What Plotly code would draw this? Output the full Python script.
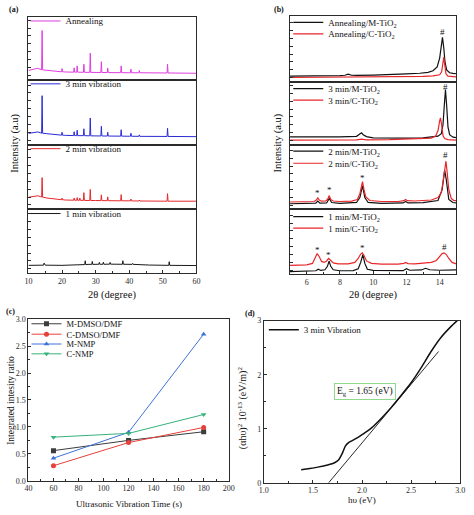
import plotly.graph_objects as go

W, H = 474, 515
FONT = "Liberation Serif"
INK = "#2b2b2b"

# ---------------- (a) XRD patterns, 10-60 deg ----------------
a_names = ["Annealing", "3 min vibration", "2 min vibration", "1 min vibration"]
a_colors = ["#e03ddf", "#2b2bd4", "#e5282b", "#1a1a1a"]
# background knots (2theta, intensity)
a_base_x = [
    [10, 11, 12, 12.8, 13.5, 15.5, 18, 21, 25, 30, 40, 50, 60],
    [10, 11, 12, 12.8, 13.5, 15.5, 18, 21, 25, 30, 40, 50, 60],
    [10, 11, 12, 12.8, 13.5, 15.5, 18, 21, 25, 30, 40, 50, 60],
    [10, 15, 20, 24, 28, 35, 42, 46, 55, 60],
]
a_base_y = [
    [9.3, 9.8, 11.0, 11.5, 10.5, 9.5, 8.5, 7.8, 7.5, 7.3, 7.0, 6.8, 6.5],
    [11.3, 11.8, 12.5, 12.8, 12.0, 11.0, 10.0, 9.3, 9.0, 8.7, 8.4, 8.2, 8.0],
    [12.3, 12.8, 13.5, 13.8, 13.0, 11.5, 10.3, 9.5, 9.2, 9.0, 8.7, 8.5, 8.3],
    [8.0, 8.2, 8.0, 8.3, 9.0, 9.2, 9.0, 8.3, 8.0, 7.8],
]
# peaks: position, local background, top
a_peak_pos = [
    [14.07, 20.0, 23.6, 24.5, 26.5, 28.4, 31.7, 33.6, 37.6, 40.5, 43.0, 51.4],
    [14.07, 20.0, 23.6, 24.5, 26.5, 28.4, 31.7, 33.6, 37.6, 40.5, 43.0, 51.4],
    [14.07, 20.0, 23.6, 24.5, 25.3, 26.5, 28.4, 31.7, 33.6, 37.6, 40.5, 43.0, 51.4],
    [14.65, 26.9, 29.0, 31.1, 32.3, 34.3, 38.1, 41.0, 51.9],
]
a_peak_base = [
    [10.0, 8.0, 7.6, 7.6, 7.5, 7.4, 7.3, 7.2, 7.1, 7.0, 7.0, 6.8],
    [11.5, 9.5, 9.1, 9.0, 9.0, 8.8, 8.7, 8.6, 8.5, 8.4, 8.3, 8.2],
    [12.5, 9.8, 9.3, 9.2, 9.2, 9.1, 9.0, 8.9, 8.8, 8.7, 8.6, 8.5, 8.3],
    [8.2, 8.8, 9.0, 9.1, 9.1, 9.2, 9.1, 9.0, 8.0],
]
a_peak_top = [
    [50.0, 11.3, 12.0, 14.0, 15.7, 27.0, 18.3, 11.7, 14.0, 10.7, 9.3, 15.7],
    [49.7, 12.5, 13.0, 14.5, 16.0, 27.0, 18.5, 12.5, 15.0, 11.5, 9.8, 16.5],
    [32.3, 11.5, 11.5, 12.0, 11.5, 17.0, 20.3, 14.7, 12.7, 15.0, 10.5, 9.5, 16.0],
    [10.3, 12.7, 12.0, 11.0, 11.2, 11.0, 12.7, 10.0, 11.7],
]

# ---------------- (b) XRD patterns, 5-15 deg ----------------
b_labels = ["Annealing", "3 min", "2 min", "1 min"]
b_m_x = [
    [5, 6, 7, 8, 8.3, 8.5, 8.7, 9, 10, 11, 12, 12.8, 13.3, 13.6, 13.85, 14.0, 14.1, 14.17, 14.25, 14.32, 14.42, 14.6, 14.8, 15],
    [5, 6, 7, 8, 9.0, 9.2, 9.3, 9.4, 9.6, 10, 11, 12, 13, 13.6, 13.9, 14.1, 14.2, 14.28, 14.35, 14.42, 14.5, 14.6, 14.8, 15],
    [5, 6, 6.55, 6.67, 6.8, 7.2, 7.36, 7.5, 8, 9.0, 9.2, 9.36, 9.5, 9.7, 10.5, 11.8, 11.95, 12.1, 13, 13.9, 14.15, 14.3, 14.4, 14.55, 14.8, 15],
    [5, 6, 6.55, 6.7, 6.85, 7.1, 7.25, 7.35, 7.45, 7.6, 8, 8.8, 9.1, 9.25, 9.38, 9.5, 9.65, 10, 11.8, 12.0, 12.2, 12.9, 13.15, 13.4, 14, 15],
]
b_m_y = [
    [5.5, 5.5, 5.8, 6, 6.5, 7.5, 6.5, 6.3, 6.6, 7, 7.8, 8.5, 9.5, 11, 15, 24, 36, 45, 34, 20, 12, 9, 8.3, 8],
    [7.8, 7.6, 7.6, 7.8, 8.3, 10.5, 12, 10, 8, 6.8, 6.5, 6.5, 6.8, 7.5, 8.5, 11, 20, 40, 55.7, 40, 18, 10, 7.5, 7],
    [5.7, 5.8, 6.3, 8.5, 6.3, 6.5, 11, 7, 6, 7, 12, 24, 12, 7, 6, 6.5, 8, 6.5, 6.8, 9, 20, 40, 30, 10, 7, 6.5],
    [2.7, 3, 3.5, 5, 3.8, 4.5, 8, 13.3, 8, 4.5, 3.5, 3.6, 5.5, 12, 20, 11, 5, 3.8, 3.6, 5.5, 4, 4.3, 6, 4.5, 4, 4.3],
]
b_c_x = [
    [5, 7, 9, 10, 11, 12, 13, 13.6, 14.0, 14.12, 14.2, 14.25, 14.3, 14.38, 14.5, 14.7, 15],
    [5, 7, 9, 9.3, 9.6, 11, 12, 13, 13.5, 13.75, 13.9, 14.0, 14.05, 14.12, 14.2, 14.3, 14.5, 15],
    [5, 6, 6.45, 6.58, 6.67, 6.76, 6.9, 7.15, 7.27, 7.36, 7.45, 7.6, 8, 8.7, 9.05, 9.2, 9.3, 9.36, 9.45, 9.55, 9.8, 10.5, 11.5, 11.85, 11.95, 12.05, 12.5, 13, 13.1, 13.5, 13.9, 14.1, 14.22, 14.32, 14.38, 14.45, 14.55, 14.7, 14.85, 15],
    [5, 6, 6.35, 6.5, 6.63, 6.75, 6.9, 7.05, 7.2, 7.32, 7.45, 7.6, 7.9, 8.5, 8.9, 9.1, 9.25, 9.35, 9.45, 9.6, 9.9, 10.5, 11.5, 11.85, 11.95, 12.1, 12.5, 13, 13.5, 13.8, 14.0, 14.15, 14.27, 14.4, 14.55, 14.75, 15],
]
b_c_y = [
    [4.2, 4.3, 4.5, 4.6, 4.8, 5, 5.3, 5.8, 7, 10, 20, 25, 18, 8, 5.5, 5, 4.8],
    [4.5, 4.6, 4.8, 5.5, 4.8, 5, 5.3, 5.8, 6.5, 8.5, 14, 24, 27, 20, 9, 6, 5, 4.5],
    [7.5, 7.6, 8, 9.5, 11.7, 9.5, 8.3, 8.5, 10.5, 14, 10, 8.5, 8, 8.3, 10, 16, 25, 28.3, 20, 13, 9, 8, 8, 8.8, 10, 8.8, 8.5, 9, 9.8, 9.5, 12, 17, 30, 45, 49, 38, 20, 11, 9, 8.8],
    [9, 9.5, 11, 16, 21, 18, 13, 12, 13.5, 16, 13.5, 11.5, 10.5, 10.5, 12, 16, 20.5, 21.7, 19, 13.5, 11, 10.3, 10.3, 11, 12, 10.8, 10.5, 11, 12, 14, 18, 21, 21.7, 20, 16, 12, 10.5],
]
# peak markers (panel index, 2theta, height, symbol)
b_mark_panel = [0, 1, 2, 2, 2, 2, 3, 3, 3, 3]
b_mark_x = [14.17, 14.35, 6.67, 7.36, 9.36, 14.38, 6.63, 7.32, 9.35, 14.27]
b_mark_y = [50, 59, 16.5, 19.5, 31.5, 55, 25, 20, 26.5, 27.5]
b_mark_s = ["#", "#", "*", "*", "*", "#", "*", "*", "*", "#"]

# ---------------- (c) integrated intensity ratio ----------------
c_time = [60, 120, 180]
c_names = ["M-DMSO/DMF", "C-DMSO/DMF", "M-NMP", "C-NMP"]
c_values = [
    [0.56, 0.75, 0.91],
    [0.28, 0.71, 0.99],
    [0.42, 0.90, 2.72],
    [0.81, 0.88, 1.23],
]
c_colors = ["#3c3c3c", "#e8403a", "#3f72d9", "#36b27a"]
c_symbols = ["square", "circle", "triangle-up", "triangle-down"]

# ---------------- (d) Tauc plot ----------------
d_hv = [1.38, 1.45, 1.55, 1.65, 1.72, 1.76, 1.80, 1.83, 1.86, 1.90, 1.95, 2.00, 2.05, 2.10,
        2.20, 2.30, 2.40, 2.50, 2.60, 2.70, 2.80, 2.90, 2.97]
d_val = [0.24, 0.26, 0.29, 0.33, 0.37, 0.42, 0.55, 0.68, 0.74, 0.78, 0.83, 0.89, 0.95, 1.02,
         1.20, 1.40, 1.62, 1.85, 2.12, 2.42, 2.68, 2.88, 3.00]
d_fit_x = [1.66, 2.78]
d_fit_y = [0.0, 2.43]


def px(x):
    return x / W


def py(y):
    return 1 - y / H


def axis(**kw):
    d = dict(showline=True, linecolor=INK, linewidth=1, mirror=True, showgrid=False,
             zeroline=False, ticks="inside", ticklen=3, tickwidth=1, tickcolor=INK,
             tickfont=dict(family=FONT, size=8, color=INK))
    d.update(kw)
    return d


fig = go.Figure()
layout = dict(width=W, height=H, margin=dict(l=0, r=0, t=0, b=0),
              paper_bgcolor="white", plot_bgcolor="white",
              font=dict(family=FONT, size=8, color=INK), showlegend=True)
annotations = []
legend_no = [0]


def new_legend(center_y, sample_left, size=9):
    legend_no[0] += 1
    name = "legend" if legend_no[0] == 1 else "legend%d" % legend_no[0]
    layout[name] = dict(x=px(sample_left - 5), y=py(center_y - 16), xanchor="left", yanchor="top",
                        bgcolor="rgba(0,0,0,0)", borderwidth=0,
                        font=dict(family=FONT, size=size, color="#111"))
    return name


# ---- panel (a)
a_top = [13, 77, 143, 209, 274]
for i in range(4):
    xs = list(a_base_x[i])
    ys = list(a_base_y[i])
    for p, b, t in zip(a_peak_pos[i], a_peak_base[i], a_peak_top[i]):
        xs += [p - 0.15, p, p + 0.15]
        ys += [b, t, b]
    pts = sorted(zip(xs, ys))
    xk = "x" if i == 0 else "x%d" % (i + 1)
    yk = "y" if i == 0 else "y%d" % (i + 1)
    lg = new_legend(a_top[i] + 5.5, 26)
    fig.add_trace(go.Scatter(x=[p[0] for p in pts], y=[p[1] for p in pts], mode="lines",
                             name=a_names[i], line=dict(color=a_colors[i], width=1),
                             xaxis=xk, yaxis=yk, legend=lg))
    h = a_top[i + 1] - a_top[i]
    xa = axis(domain=[px(24), px(196)], anchor=yk, range=[10, 60])
    if i > 0:
        xa["matches"] = "x"
    if i < 3:
        xa.update(showticklabels=False, ticks="")
    else:
        xa.update(dtick=10, tick0=10, minor=dict(dtick=5, ticks="inside", ticklen=2, tickcolor=INK))
    layout["xaxis" if i == 0 else "xaxis%d" % (i + 1)] = xa
    layout["yaxis" if i == 0 else "yaxis%d" % (i + 1)] = axis(
        domain=[py(a_top[i + 1]), py(a_top[i])], anchor=xk, range=[0, h],
        showticklabels=False, tick0=4.5, dtick=8)

# ---- panel (b)
b_top = [12, 79, 143, 209, 275]
b_leg_y = [[20, 31.7], [87.3, 99], [151, 163.3], [217.7, 229.3]]
for i in range(4):
    n = 5 + i
    xk, yk = "x%d" % n, "y%d" % n
    lg1 = new_legend(b_leg_y[i][0], 295)
    fig.add_trace(go.Scatter(x=b_m_x[i], y=b_m_y[i], mode="lines",
                             name=b_labels[i] + "/M-TiO<sub>2</sub>",
                             line=dict(color="#111111", width=1.2), xaxis=xk, yaxis=yk, legend=lg1))
    lg2 = new_legend(b_leg_y[i][1], 295)
    fig.add_trace(go.Scatter(x=b_c_x[i], y=b_c_y[i], mode="lines",
                             name=b_labels[i] + "/C-TiO<sub>2</sub>",
                             line=dict(color="#e8262a", width=1.2), xaxis=xk, yaxis=yk, legend=lg2))
    h = b_top[i + 1] - b_top[i]
    xa = axis(domain=[px(291.8), px(462)], anchor=yk, range=[5, 15])
    if i > 0:
        xa["matches"] = "x5"
    if i < 3:
        xa.update(showticklabels=False, ticks="")
    else:
        xa.update(dtick=2, tick0=6, minor=dict(dtick=1, ticks="inside", ticklen=2, tickcolor=INK))
    layout["xaxis%d" % n] = xa
    layout["yaxis%d" % n] = axis(domain=[py(b_top[i + 1]), py(b_top[i])], anchor=xk,
                                 range=[0, h], showticklabels=False, tick0=4, dtick=8)

for pnl, mx, my, ms in zip(b_mark_panel, b_mark_x, b_mark_y, b_mark_s):
    annotations.append(dict(x=mx, y=my, xref="x%d" % (5 + pnl), yref="y%d" % (5 + pnl),
                            text=ms, showarrow=False, font=dict(family=FONT, size=9, color="#111")))

# ---- panel (c)
c_leg_y = [326.7, 337.3, 347.3, 357.3]
for k in range(4):
    lg = new_legend(c_leg_y[k], 27, size=8.5)
    fig.add_trace(go.Scatter(x=c_time, y=c_values[k], mode="lines+markers", name=c_names[k],
                             line=dict(color=c_colors[k], width=1),
                             marker=dict(symbol=c_symbols[k], size=5, color=c_colors[k]),
                             xaxis="x9", yaxis="y9", legend=lg))
layout["xaxis9"] = axis(domain=[px(24), px(229)], anchor="y9", range=[40, 200], dtick=20,
                        minor=dict(dtick=10, ticks="inside", ticklen=2, tickcolor=INK))
layout["yaxis9"] = axis(domain=[py(485.3), py(320.7)], anchor="x9", range=[0, 3], dtick=0.5,
                        tickformat=".1f", minor=dict(dtick=0.25, ticks="inside", ticklen=2, tickcolor=INK))

# ---- panel (d)
lg = new_legend(332.7, 270)
fig.add_trace(go.Scatter(x=d_hv, y=d_val, mode="lines", name="3 min Vibration",
                         line=dict(color="#111111", width=1.5, shape="spline", smoothing=0.6),
                         xaxis="x10", yaxis="y10", legend=lg))
fig.add_trace(go.Scatter(x=d_fit_x, y=d_fit_y, mode="lines", showlegend=False,
                         line=dict(color="#111111", width=0.9), xaxis="x10", yaxis="y10"))
layout["xaxis10"] = axis(domain=[px(265), px(466)], anchor="y10", range=[1, 3], dtick=0.5,
                         tickformat=".1f", minor=dict(dtick=0.25, ticks="inside", ticklen=2, tickcolor=INK))
layout["yaxis10"] = axis(domain=[py(487.3), py(322.3)], anchor="x10", range=[0, 3], dtick=1,
                         minor=dict(dtick=0.5, ticks="inside", ticklen=2, tickcolor=INK))
annotations.append(dict(x=2.03, y=1.69, xref="x10", yref="y10", text="E<sub>g</sub> = 1.65 (eV)",
                        showarrow=False, bordercolor="#8ed98e", borderwidth=1, borderpad=2,
                        bgcolor="white", font=dict(family=FONT, size=9.5, color="#111")))


# ---- titles and panel labels
def label(text, x, y, size, angle=0):
    annotations.append(dict(x=px(x), y=py(y), xref="paper", yref="paper", text=text,
                            showarrow=False, textangle=angle, xanchor="center", yanchor="middle",
                            font=dict(family=FONT, size=size, color="#111")))


label("2θ (degree)", 110, 296, 10.5)
label("2θ (degree)", 376.5, 296, 10.5)
label("Intensity (a.u)", 10, 141.5, 10.5, -90)
label("Intensity (a.u)", 280, 141.5, 10.5, -90)
label("Ultrasonic Vibration Time (s)", 127, 508.7, 9)
label("Integrated intesity ratio", 6, 403, 9.5, -90)
label("hυ (eV)", 365, 505, 9)
label("(αhυ)<sup>2</sup> 10<sup>-13</sup> (eV/m)<sup>2</sup>", 243, 411, 10, -90)
label("<b>(a)</b>", 9, 6, 8)
label("<b>(b)</b>", 281, 6, 8)
label("<b>(c)</b>", 6, 313, 8)
label("<b>(d)</b>", 251, 315, 8)

layout["annotations"] = annotations
fig.update_layout(**layout)
fig.write_html("out.html")
